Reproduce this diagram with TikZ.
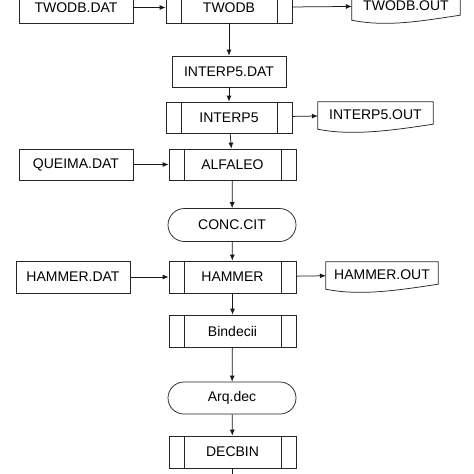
\documentclass[tikz,border=0pt]{standalone}
\usepackage{fontspec}
\setmainfont{Liberation Sans}
\usetikzlibrary{arrows.meta,shapes.misc}
\begin{document}
\begin{tikzpicture}[
  x=1pt, y=-1pt,
  every node/.style = {font=\fontsize{14}{16}\selectfont,
    inner sep=0pt, text=black},
  box/.style = {shape=rectangle, draw=black!85, line width=.75pt,
    minimum height=31pt},
  datafile/.style = {box, minimum width=114pt},
  process/.style = {box, minimum width=126pt,
    path picture={
      \draw[black!85, line width=.75pt]
        ([xshift=15pt]path picture bounding box.north west) --
        ([xshift=15pt]path picture bounding box.south west)
        ([xshift=-15pt]path picture bounding box.north east) --
        ([xshift=-15pt]path picture bounding box.south east);
    }},
  terminal/.style = {shape=rounded rectangle, draw=black!85,
    line width=.75pt, minimum width=128pt, minimum height=33pt},
  document/.style = {shape=rectangle, minimum height=26pt},
  flow/.style = {draw=black!90, line width=.75pt,
    -{Latex[length=6pt,width=5pt]}}
  ]
  \useasboundingbox (0,0) rectangle (474,474);
  % TWODB
  \node[datafile] (twodbdat) at (76,7.5) {TWODB.DAT};
  \node[process] (twodb) at (229,7.5) {TWODB};
  \node[document, minimum width=108pt] (twodbout) at (406,6) {TWODB.OUT};
  % INTERP5
  \node[datafile] (interpdat) at (229,71.5) {INTERP5.DAT};
  \node[process] (interp) at (229,117.5) {INTERP5};
  \node[document, minimum width=115pt] (interpout) at (375.5,115) {INTERP5.OUT};
  % ALFALEO
  \node[datafile] (queimadat) at (76,164.5) {QUEIMA.DAT};
  \node[process, minimum width=127pt] (alfaleo) at (232.5,164.5) {ALFALEO};
  \node[terminal] (conccit) at (232,225) {CONC.CIT};
  % HAMMER
  \node[datafile, minimum height=32pt] (hammerdat) at (73,277) {HAMMER.DAT};
  \node[process, minimum width=127pt, minimum height=32pt] (hammer) at (232.5,277) {HAMMER};
  \node[document, minimum width=112pt] (hammerout) at (382,275) {HAMMER.OUT};
  % decimal / binary
  \node[process, minimum width=127pt, minimum height=32pt] (bindecii) at (232.5,331) {Bindecii};
  \node[terminal, minimum height=32pt] (arqdec) at (232,398) {Arq.dec};
  \node[process, minimum width=127pt, minimum height=32pt] (decbin) at (232.5,452) {DECBIN};
  \coordinate (exit) at (232.5,490);

  % document outlines
  \foreach \d in {twodbout,interpout,hammerout}
    \draw[black!85, line width=.75pt] (\d.north west) --
      ([yshift=-1pt]\d.south west) .. controls +(35,7) and +(-40,6) ..
      ([yshift=4pt]\d.south east) -- (\d.north east) -- cycle;

  % connectors
  \draw[flow] (twodbdat) -- (twodb);
  \draw[flow] (twodb) -- (twodbout);
  \draw[flow] (twodb) -- (interpdat);
  \draw[flow] (interpdat) -- (interp);
  \draw[flow] (interp) -- (interpout);
  \draw[flow] (interp) -- (alfaleo);
  \draw[flow] (queimadat) -- (alfaleo);
  \draw[flow] (alfaleo) -- (conccit);
  \draw[flow] (conccit) -- (hammer);
  \draw[flow] (hammerdat) -- (hammer);
  \draw[flow] (hammer) -- (hammerout);
  \draw[flow] (hammer) -- (bindecii);
  \draw[flow] (bindecii) -- (arqdec);
  \draw[flow] (arqdec) -- (decbin);
  \draw[flow] (decbin) -- (exit);
\end{tikzpicture}
\end{document}
